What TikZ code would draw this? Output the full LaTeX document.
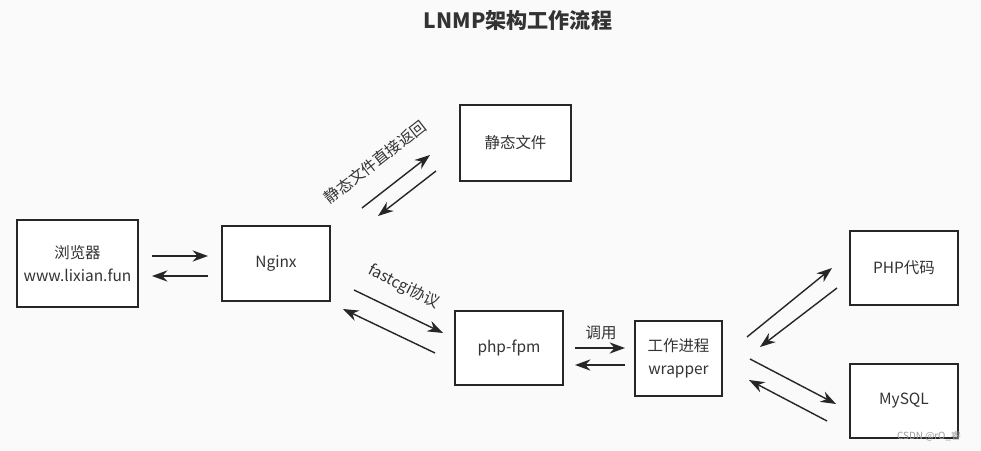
\documentclass[tikz,border=0pt]{standalone}
\usepackage{fontspec}
\setmainfont{Noto Sans CJK SC}
\usetikzlibrary{arrows.meta}
\begin{document}
\begin{tikzpicture}[x=0.025cm,y=-0.025cm,
    box/.style={draw=black!85,line width=0.9pt,fill=white,inner sep=0pt,align=center,font=\fontsize{11}{16}\selectfont,text=black!80},
    arr/.style={-{Stealth[length=11pt,width=8pt]},line width=1pt,draw=black!85},
    lbl/.style={font=\fontsize{11}{12}\selectfont,text=black!80,inner sep=1pt}]
    \fill[gray!4] (0,0) rectangle (981,451);
    \node[font=\bfseries\fontsize{15}{17}\selectfont,text=black!80] (title) at (518,20) {LNMP架构工作流程};
    \node[box,minimum width=121*0.025cm,minimum height=87*0.025cm] (browser) at (77.5,263.5) {浏览器\\www.lixian.fun};
    \node[box,minimum width=108*0.025cm,minimum height=75*0.025cm] (nginx) at (276,263.5) {Nginx};
    \node[box,minimum width=111*0.025cm,minimum height=76*0.025cm] (static) at (515.5,143) {静态文件};
    \node[box,minimum width=108*0.025cm,minimum height=74*0.025cm] (fpm) at (509,348) {php-fpm};
    \node[box,minimum width=87*0.025cm,minimum height=75*0.025cm] (worker) at (678.5,358.5) {工作进程\\wrapper};
    \node[box,minimum width=108*0.025cm,minimum height=74*0.025cm] (php) at (904,268) {PHP代码};
    \node[box,minimum width=108*0.025cm,minimum height=74*0.025cm] (mysql) at (904,401) {MySQL};
    % arrow ends
    \coordinate (b1) at (152,256); \coordinate (n1) at (208,256);
    \coordinate (n2) at (208,276); \coordinate (b2) at (152,276);
    \coordinate (s1) at (362,208); \coordinate (s2) at (430,155);
    \coordinate (s3) at (436,171); \coordinate (s4) at (378,216);
    \coordinate (f1) at (354,290); \coordinate (f2) at (443,333);
    \coordinate (f3) at (435,353); \coordinate (f4) at (343,309);
    \coordinate (w1) at (575,348); \coordinate (w2) at (625,348);
    \coordinate (w3) at (625,365); \coordinate (w4) at (575,365);
    \coordinate (p1) at (747,337); \coordinate (p2) at (832,268);
    \coordinate (p3) at (837,288); \coordinate (p4) at (760,347);
    \coordinate (m1) at (750,359); \coordinate (m2) at (836,404);
    \coordinate (m3) at (827,421); \coordinate (m4) at (749,380);
    \draw[arr] (b1) -- (n1);
    \draw[arr] (n2) -- (b2);
    \draw[arr] (s1) -- (s2);
    \draw[arr] (s3) -- (s4);
    \draw[arr] (f1) -- (f2);
    \draw[arr] (f3) -- (f4);
    \draw[arr] (w1) -- (w2);
    \draw[arr] (w3) -- (w4);
    \draw[arr] (p1) -- (p2);
    \draw[arr] (p3) -- (p4);
    \draw[arr] (m1) -- (m2);
    \draw[arr] (m3) -- (m4);
    % labels
    \node[lbl,rotate=38] (lstatic) at (375,162) {静态文件直接返回};
    \node[lbl,rotate=-27] (lfast) at (404,287) {fastcgi协议};
    \node[lbl] (lcall) at (601,333) {调用};
    \node[font=\fontsize{7}{8}\selectfont,text=black!40] (mark) at (929,436) {CSDN @rO\_睿};
\end{tikzpicture}
\end{document}
